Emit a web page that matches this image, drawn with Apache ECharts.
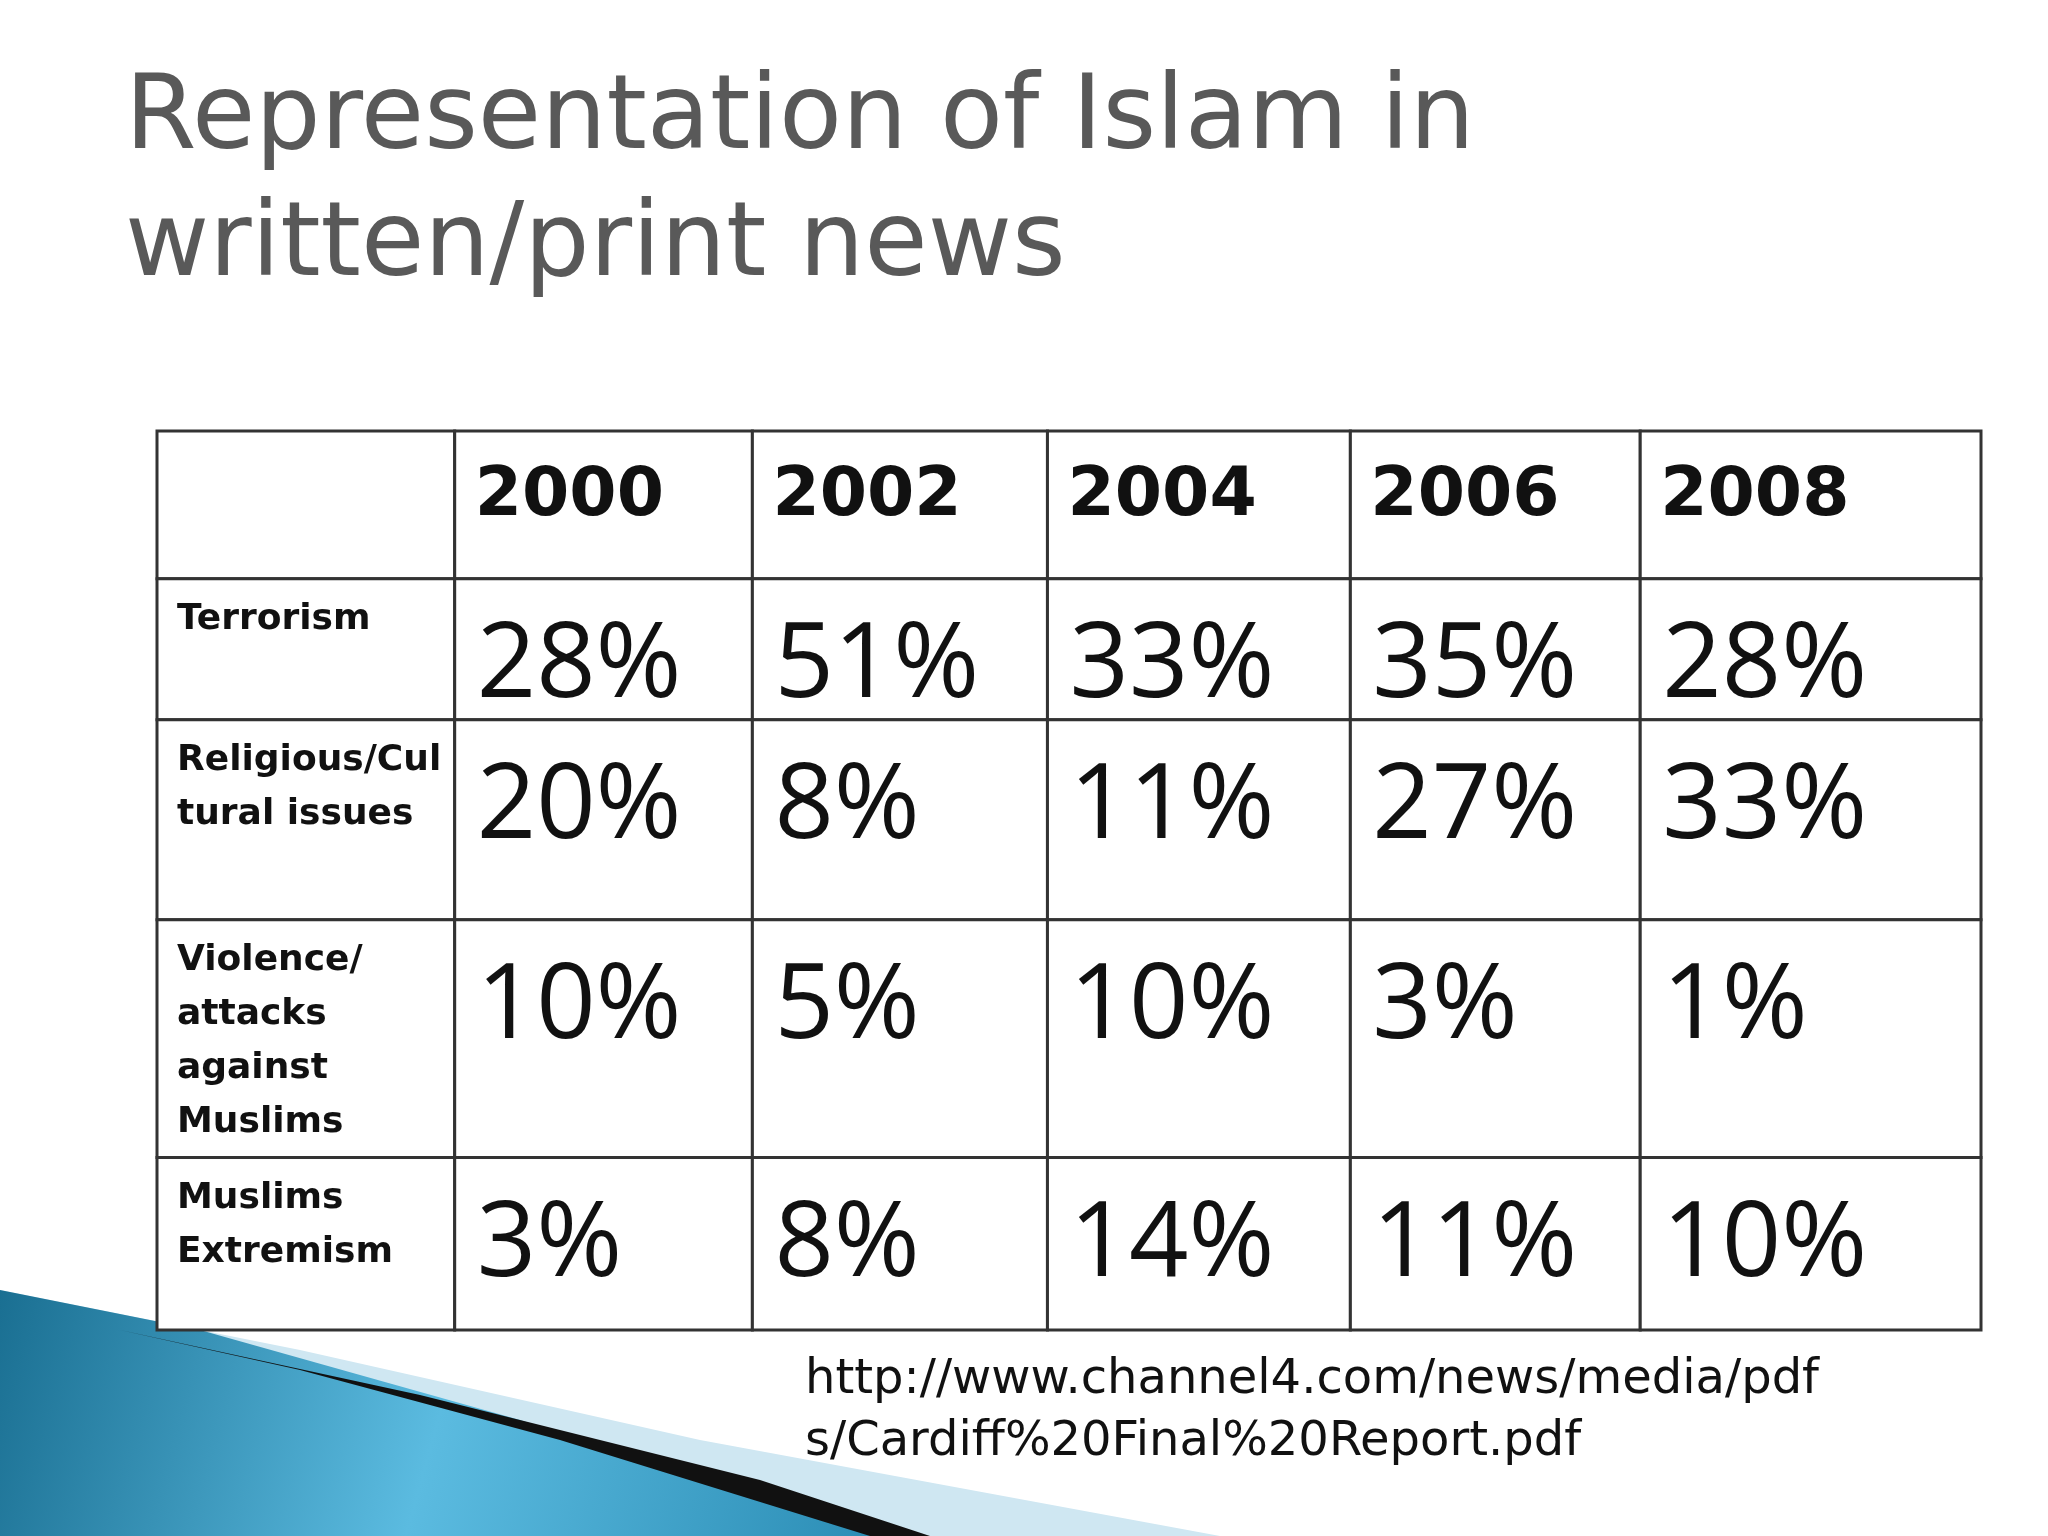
<!DOCTYPE html>
<html><head><meta charset="utf-8">
<script src="https://cdn.jsdelivr.net/npm/echarts@6/dist/echarts.min.js"></script>
<style>html,body{margin:0;background:#fff}#c{width:2048px;height:1536px}</style>
</head><body><div id="c"></div>
<script>
const years = ['2000', '2002', '2004', '2006', '2008'];
const rowLabels = ['Terrorism', 'Religious/Cul\ntural issues', 'Violence/\nattacks\nagainst\nMuslims', 'Muslims\nExtremism'];
const terrorism = [28, 51, 33, 35, 28];
const religious = [20, 8, 11, 27, 33];
const violence = [10, 5, 10, 3, 1];
const extremism = [3, 8, 14, 11, 10];
const rowValues = [terrorism, religious, violence, extremism];

// table layout (axis units): column and row edges
const colEdges = [0, 228, 456, 682, 914, 1136, 1397];
const rowEdges = [0, 113, 221, 374, 556, 688];

let cells = [];
for (let c = 0; c < 6; c++) {
  for (let r = 0; r < 5; r++) {
    let text = '', kind = 'empty';
    if (r === 0 && c > 0) { text = years[c - 1]; kind = 'year'; }
    else if (r > 0 && c === 0) { text = rowLabels[r - 1]; kind = 'label'; }
    else if (r > 0 && c > 0) { text = rowValues[r - 1][c - 1] + '%'; kind = 'value'; }
    cells.push([c, r, text, kind]);
  }
}

let myChart = echarts.init(document.getElementById('c'));
let option = {
  backgroundColor: '#fff',
  grid: {left: 157, right: 67, top: 431, bottom: 206},
  xAxis: {type: 'value', min: 0, max: 1397, show: false},
  yAxis: {type: 'value', min: 0, max: 688, inverse: true, show: false},
  graphic: [
    {type: 'text', left: 125, top: 58, style: {text: 'Representation of Islam in\nwritten/print news', font: '500 103px "DejaVu Sans"', fill: '#595959', lineHeight: 127}},
    {type: 'text', left: 805, top: 1350, style: {text: 'http://www.channel4.com/news/media/pdf\ns/Cardiff%20Final%20Report.pdf', font: '48px "DejaVu Sans"', fill: '#111', lineHeight: 62}},
    {type: 'polygon', shape: {points: [[0, 1290], [300, 1350], [700, 1440], [1220, 1536], [0, 1536]]},
      style: {fill: '#cfe7f2'}},
    {type: 'polygon', shape: {points: [[0, 1290], [200, 1330], [520, 1420], [880, 1536], [0, 1536]]},
      style: {fill: new echarts.graphic.LinearGradient(0, 0, 1, 1, [{offset: 0, color: '#1a6f92'}, {offset: 0.5, color: '#5bbbe0'}, {offset: 1, color: '#2b8db5'}])}},
    {type: 'polygon', shape: {points: [[120, 1330], [420, 1395], [760, 1480], [930, 1536], [870, 1536], [560, 1440], [300, 1370]]},
      style: {fill: '#111'}}
  ],
  series: [{
    type: 'custom',
    data: cells,
    renderItem: function (params, api) {
      let c = api.value(0), r = api.value(1);
      let p0 = api.coord([colEdges[c], rowEdges[r]]);
      let p1 = api.coord([colEdges[c + 1], rowEdges[r + 1]]);
      let x0 = p0[0], y0 = p0[1];
      let kind = api.value(3), text = api.value(2);
      let font = '80px "Open Sans"', tx = x0 + 22, ty = (p0[1] + p1[1]) / 2, vAlign = 'middle';
      if (kind === 'year') { font = 'bold 68px "DejaVu Sans"'; tx = x0 + 20; ty = y0 + 66; }
      if (kind === 'label') { font = 'bold 36px "DejaVu Sans"'; tx = x0 + 20; ty = y0 + 14; vAlign = 'top'; }
      if (kind === 'value') { font = '104px "Open Sans"'; ty = y0 + 89; }
      return {type: 'group', children: [
        {type: 'rect', shape: {x: x0, y: y0, width: p1[0] - x0, height: p1[1] - y0}, style: {fill: '#fff', stroke: '#333', lineWidth: 3}},
        {type: 'text', style: {text: text, x: tx, y: ty, font: font, fill: '#111', verticalAlign: vAlign, textAlign: 'left', lineHeight: kind === 'label' ? 54 : undefined}}
      ]};
    }
  }]
};
myChart.setOption(option);
</script></body></html>
